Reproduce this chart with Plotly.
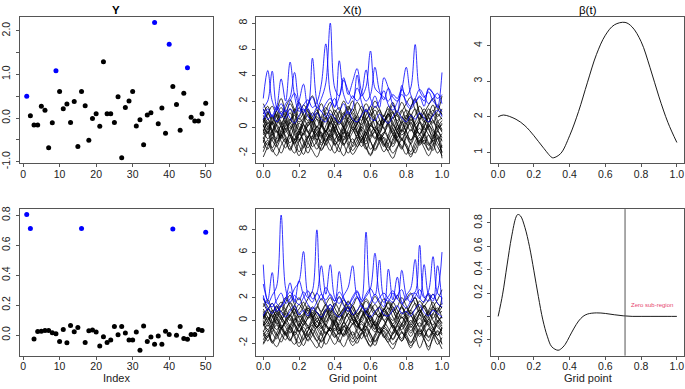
import plotly.graph_objects as go

# ---------------- data ----------------
index = list(range(1, 51))
y_top = [0.50, 0.05, -0.16, -0.16, 0.27, 0.18, -0.68, -0.11, 1.08, 0.61,
         0.21, 0.32, -0.10, 0.38, -0.65, 0.61, 0.28, -0.51, -0.01, 0.10,
         -0.19, 1.29, 0.10, 0.10, -0.10, 0.49, -0.91, 0.24, 0.39, 0.61,
         -0.18, -0.04, -0.61, 0.07, 0.12, 2.19, -0.13, 0.23, -0.35, 1.69,
         0.72, 0.31, -0.28, 0.57, 1.15, 0.02, -0.07, -0.07, 0.10, 0.34]
outliers_top = [1, 9, 36, 40, 45]
y_bot = [0.806, 0.713, -0.026, 0.024, 0.026, 0.030, 0.030, 0.015, 0.009, -0.043,
         0.037, -0.052, 0.063, 0.022, 0.050, 0.713, -0.050, 0.028, 0.033, 0.020,
         -0.074, -0.011, -0.050, -0.033, 0.057, 0.002, 0.057, 0.013, -0.033, -0.033,
         0.020, -0.102, 0.061, -0.043, -0.013, -0.061, -0.007, -0.061, 0.026, 0.004,
         0.709, -0.002, 0.057, -0.024, -0.028, 0.004, 0.004, 0.037, 0.030, 0.687]
outliers_bot = [1, 2, 16, 41, 50]

grid = [i / 40 for i in range(41)]

X_top_normal = [
    [0.2,-0.5,0.8,0.1,-0.9,0.4,1.1,0.2,-0.6,0.3,0.9,-0.2,-1.0,0.1,0.7,-0.4,0.5,1.2,0.0,-0.7,0.3,0.8,-0.3,-1.1,0.2,0.6,-0.5,0.4,1.0,-0.1,-0.8,0.3,0.9,0.1,-0.6,0.5,1.1,0.0,-0.9,0.4,0.7],
    [-1.2,-0.4,-1.6,-0.8,0.1,-0.9,-1.8,-1.0,-0.3,-1.2,-2.0,-1.1,-0.5,-1.4,-0.7,-0.2,-1.3,-1.9,-0.9,-0.4,-1.5,-1.0,-0.2,-0.8,-1.7,-1.2,-0.6,-1.4,-0.9,-0.1,-1.0,-1.6,-0.7,-1.3,-2.0,-1.1,-0.5,-1.2,-1.8,-0.8,-2.4],
    [1.0,1.6,0.7,1.3,2.2,1.1,0.5,1.4,0.8,1.7,1.2,0.4,1.0,1.8,0.9,0.3,1.1,1.5,0.6,1.3,2.0,1.0,0.5,1.4,0.9,1.6,1.1,0.4,1.2,1.9,0.8,1.3,0.6,1.5,2.1,1.0,0.7,1.4,0.9,1.2,2.4],
    [-0.5,0.3,-0.2,-1.1,-0.4,0.4,-0.6,-1.3,-0.5,0.2,-0.3,-0.9,0.1,-0.6,-1.4,-0.7,0.0,-0.5,-1.0,-0.2,0.5,-0.4,-1.2,-0.6,0.1,-0.2,-0.8,-1.5,-0.6,0.2,-0.4,-1.0,-0.3,0.4,-0.5,-1.2,-0.7,0.1,-0.3,-0.9,-0.5],
    [0.6,-0.2,0.4,1.0,0.2,-0.4,0.5,0.9,0.0,-0.6,0.3,0.8,1.3,0.4,-0.3,0.2,0.7,-0.1,-0.5,0.6,1.1,0.3,-0.2,0.5,1.0,0.1,-0.4,0.3,0.8,1.2,0.2,-0.3,0.4,0.9,0.0,-0.5,0.4,1.0,0.5,-0.1,0.3],
    [-2.3,-1.5,-0.8,-1.4,-2.0,-1.2,-0.6,-1.0,-1.9,-1.3,-0.7,-1.5,-1.1,-0.4,-1.2,-1.8,-1.0,-0.5,-1.3,-2.0,-1.4,-0.8,-1.1,-1.7,-0.9,-0.4,-1.2,-1.9,-1.3,-0.6,-1.0,-1.5,-2.1,-1.2,-0.7,-1.4,-1.0,-1.8,-1.3,-0.6,-1.6],
    [0.9,0.2,-0.3,0.5,1.2,0.6,-0.1,0.4,1.5,0.8,0.1,0.6,1.1,0.3,-0.4,0.5,1.3,0.7,0.0,0.8,1.4,0.6,0.2,0.9,1.6,0.8,0.1,0.5,1.0,0.4,-0.2,0.6,1.3,0.9,0.2,0.7,1.4,0.8,0.3,1.0,0.6],
    [-0.8,-1.4,-0.5,0.2,-0.6,-1.2,-0.3,0.3,-0.4,-1.0,-1.6,-0.7,0.0,-0.5,-1.1,-0.4,0.2,-0.6,-1.3,-0.8,-0.2,-0.9,-1.5,-0.6,0.1,-0.3,-1.0,-0.5,0.3,-0.4,-1.1,-1.7,-0.8,-0.2,-0.7,-1.3,-0.5,0.2,-0.6,-1.2,-1.9],
    [0.3,1.0,1.6,0.8,0.2,0.9,1.8,1.1,0.4,0.7,1.4,0.6,0.0,0.8,1.5,0.9,0.3,1.1,2.0,1.2,0.5,0.9,1.6,0.7,0.1,0.8,1.3,0.5,0.9,1.7,1.0,0.3,0.8,1.5,2.2,1.1,0.4,1.0,1.7,0.8,1.4],
    [-0.2,-0.9,-0.3,0.5,0.0,-0.7,-1.2,-0.4,0.3,-0.2,-0.8,-0.1,0.6,0.1,-0.6,-1.0,-0.3,0.4,-0.1,-0.9,-0.4,0.3,0.8,0.0,-0.7,-0.2,0.5,-0.1,-0.8,-1.3,-0.5,0.2,-0.3,-1.0,-0.4,0.4,0.0,-0.6,-1.1,-0.3,0.2],
    [-1.6,-1.0,-1.9,-1.3,-0.6,-1.1,-1.7,-0.9,-1.4,-2.1,-1.2,-0.7,-1.3,-1.8,-1.1,-0.5,-1.0,-1.6,-2.2,-1.4,-0.9,-1.5,-1.0,-0.4,-1.1,-1.8,-1.2,-0.8,-1.4,-2.0,-1.5,-0.9,-1.3,-1.9,-1.1,-0.6,-1.2,-1.7,-1.0,-1.5,-2.2],
    [1.4,0.7,0.2,0.9,1.5,0.8,0.3,1.2,1.9,1.0,0.5,1.1,0.6,0.0,0.7,1.3,0.6,0.2,0.8,1.5,0.9,0.3,1.0,1.8,1.2,0.6,0.2,0.9,1.4,0.7,1.1,1.9,1.2,0.5,0.9,1.6,1.0,0.4,1.1,1.7,0.9],
    [0.0,0.6,-0.3,-0.9,-0.2,0.5,0.1,-0.6,-1.1,-0.3,0.4,-0.2,-0.7,0.2,0.8,0.1,-0.5,-1.0,-0.2,0.5,-0.1,-0.7,0.0,0.6,-0.2,-0.8,-0.3,0.4,1.0,0.2,-0.4,-0.9,-0.1,0.6,0.0,-0.6,0.1,0.7,-0.1,-0.7,-1.0],
    [-0.6,-0.1,0.4,-0.3,-0.8,-0.2,0.3,-0.4,-1.0,-0.5,0.1,0.6,-0.1,-0.7,-0.3,0.4,-0.2,-0.9,-1.4,-0.6,0.0,-0.4,-1.0,-0.3,0.3,-0.3,-0.9,-0.5,0.2,0.7,-0.1,-0.6,-0.2,0.3,-0.4,-1.1,-0.6,0.0,0.5,-0.2,-0.8],
    [0.4,1.1,0.3,-0.4,0.2,0.9,1.4,0.5,-0.2,0.6,1.2,0.4,-0.3,-0.8,0.1,0.8,0.2,-0.5,0.3,1.0,0.5,-0.3,-0.9,0.0,0.7,1.3,0.6,-0.1,0.4,1.1,0.3,-0.4,0.2,0.8,1.4,0.5,-0.2,0.3,0.9,0.2,-0.3],
    [-1.0,-1.7,-0.9,-0.3,-1.1,-1.6,-0.8,-1.4,-2.2,-1.5,-0.8,-0.3,-1.0,-1.7,-1.2,-0.6,-1.3,-1.0,-0.4,-1.1,-1.8,-1.3,-0.7,-1.5,-2.1,-1.2,-0.5,-0.9,-1.6,-1.1,-0.4,-0.9,-1.5,-2.3,-1.4,-0.8,-1.3,-0.6,-1.2,-2.0,-1.4],
    [1.8,1.1,0.6,1.2,0.7,1.5,2.1,1.3,0.6,1.1,1.8,2.4,1.4,0.7,1.3,1.9,1.0,0.4,1.0,1.6,1.2,1.9,1.3,0.6,1.2,2.0,1.4,0.8,1.6,1.1,0.5,1.2,1.8,2.3,1.3,0.6,1.1,1.7,2.2,1.4,1.0],
    [-0.3,0.4,-0.5,-1.2,-0.6,0.1,0.6,-0.2,-0.9,-1.6,-0.8,-0.1,-0.6,-1.2,-0.4,0.3,-0.3,-1.1,-0.5,0.2,0.7,0.0,-0.7,-1.3,-0.6,0.0,-0.5,-1.2,-1.8,-0.9,-0.2,0.4,-0.4,-1.0,-0.3,0.3,-0.5,-1.3,-0.7,0.1,-0.4],
    [0.7,0.0,-0.6,0.2,0.9,0.3,-0.4,-1.0,-0.3,0.5,1.0,0.2,-0.5,0.3,1.1,0.6,-0.2,-0.8,0.0,0.7,0.2,-0.5,0.4,1.2,0.5,-0.3,0.1,0.9,0.3,-0.6,-1.1,-0.2,0.6,1.0,0.2,-0.5,0.0,0.8,1.3,0.5,-0.2],
    [-1.9,-1.2,-1.7,-2.2,-1.4,-0.9,-1.5,-2.0,-1.1,-0.5,-1.2,-1.8,-2.3,-1.5,-0.9,-1.4,-2.0,-1.3,-0.7,-1.4,-2.1,-1.6,-1.0,-1.6,-2.2,-1.4,-0.8,-1.3,-1.9,-2.4,-1.6,-1.0,-1.5,-2.1,-1.7,-1.0,-1.6,-2.2,-1.5,-0.9,-2.0],
    [0.1,-0.4,0.3,0.9,0.4,-0.2,-0.7,0.1,0.7,0.2,-0.4,0.3,0.8,0.2,-0.3,-0.8,0.0,0.6,1.1,0.4,-0.2,0.2,0.9,0.3,-0.4,-0.9,-0.1,0.6,0.1,-0.5,0.2,0.8,0.3,-0.3,0.4,1.0,0.5,-0.2,-0.7,0.0,0.5],
    [-0.9,-0.3,-1.0,-1.5,-0.7,-0.1,-0.6,-1.2,-0.5,0.1,-0.4,-1.1,-1.7,-0.9,-0.3,-0.8,-1.4,-0.7,-0.1,-0.6,-1.2,-0.6,0.0,-0.5,-1.1,-1.7,-1.0,-0.4,-0.9,-1.5,-0.8,-0.2,-0.7,-1.3,-0.6,-0.1,-0.8,-1.4,-0.9,-0.3,-1.1],
]
X_top_outlier = [
    [2.2,4.35,2.0,1.3,1.8,1.2,2.0,2.6,1.6,1.1,1.7,2.3,1.5,2.2,3.4,8.0,3.0,2.4,3.6,2.8,2.2,3.0,2.4,3.1,5.85,3.0,2.6,2.3,2.0,2.5,2.2,2.9,2.4,3.0,6.35,2.8,2.3,2.7,2.0,1.6,1.2],
    [1.5,2.0,4.3,1.5,1.0,1.8,2.3,4.2,1.9,1.3,1.6,5.3,2.0,1.2,1.8,2.2,1.5,5.1,2.5,1.8,2.4,2.0,2.6,4.4,2.2,1.5,2.0,2.8,1.7,1.3,1.9,2.5,2.0,1.6,2.2,2.9,2.4,1.8,2.2,2.6,1.8],
    [1.0,1.4,0.8,1.5,3.7,2.0,5.0,2.4,1.2,1.7,2.1,1.5,1.9,3.3,6.4,2.6,1.6,2.3,3.8,2.5,3.5,4.5,2.7,2.0,2.5,4.6,2.8,2.1,3.0,2.3,2.0,2.9,4.6,2.5,1.9,2.4,2.0,2.9,2.6,2.2,2.5],
    [0.6,1.2,0.9,1.6,1.0,0.7,1.4,1.1,2.0,3.3,1.4,0.9,1.5,1.2,0.8,1.6,2.2,1.3,1.8,1.0,1.5,4.0,1.9,1.2,1.6,2.4,1.5,3.8,3.0,1.7,1.2,3.2,1.8,1.4,1.9,2.3,1.6,3.0,2.6,1.5,4.2],
    [1.4,0.6,0.9,0.4,0.8,1.3,0.7,0.3,0.9,1.4,0.8,0.5,1.1,0.6,0.4,1.0,0.7,0.3,0.8,1.2,0.6,0.4,0.9,1.3,0.7,0.5,1.0,0.6,0.3,0.8,1.2,0.7,0.4,0.9,0.6,1.1,0.7,0.4,0.9,1.3,0.8],
]
X_bot_normal = [
    [0.5,-0.3,0.9,0.2,-0.7,0.1,1.0,0.4,-0.5,0.2,1.1,0.3,-0.6,-0.1,0.8,0.2,-0.9,-0.2,0.6,1.2,0.1,-0.5,0.4,0.9,-0.2,-0.8,0.3,1.0,0.4,-0.3,0.5,1.1,0.2,-0.6,0.0,0.7,1.3,0.3,-0.4,0.5,0.8],
    [-1.4,-0.8,-1.9,-1.1,-0.4,-1.2,-1.7,-0.9,-0.3,-1.0,-1.8,-1.3,-0.6,-1.1,-2.1,-1.4,-0.7,-1.2,-0.5,-1.0,-1.6,-0.9,-0.3,-1.1,-1.9,-1.2,-0.7,-1.5,-1.0,-0.4,-1.2,-1.8,-1.1,-0.5,-1.3,-2.4,-1.5,-0.8,-1.1,-1.7,-2.5],
    [1.2,1.8,0.9,0.4,1.3,2.0,1.2,0.6,1.0,1.6,0.8,0.3,1.1,1.9,1.3,0.7,1.2,2.1,1.4,0.8,1.3,0.6,1.0,1.7,1.1,0.5,1.2,1.9,1.0,1.5,2.2,1.3,0.7,1.4,2.0,1.1,1.7,2.3,1.2,0.8,2.0],
    [-0.3,-1.0,-0.4,0.3,-0.5,-1.2,-0.6,0.1,-0.2,-0.9,-1.4,-0.5,0.2,-0.4,-1.1,-0.7,0.0,-0.6,-1.3,-0.4,0.3,-0.3,-0.9,-0.2,0.4,-0.5,-1.1,-0.6,0.1,-0.4,-1.0,-1.6,-0.7,0.0,-0.5,-1.2,-0.8,-0.1,-0.6,-1.3,-0.7],
    [0.8,0.1,0.6,1.2,0.4,-0.2,0.5,1.0,0.2,-0.4,0.3,0.9,0.4,-0.3,0.4,1.1,0.5,0.0,0.7,1.3,0.6,-0.1,0.3,0.8,0.2,-0.5,0.4,1.0,0.5,0.0,0.6,1.2,0.4,-0.2,0.5,0.9,0.1,-0.4,0.6,1.1,0.2],
    [-2.1,-1.4,-0.7,-1.2,-1.9,-1.0,-0.5,-1.3,-2.0,-1.2,-0.6,-1.1,-1.8,-2.4,-1.3,-0.7,-1.2,-1.9,-1.1,-0.6,-1.4,-2.0,-1.2,-0.8,-1.5,-2.2,-1.3,-0.7,-1.1,-1.7,-1.0,-0.5,-1.2,-1.9,-1.3,-0.8,-1.6,-2.6,-1.4,-0.9,-1.3],
    [1.0,0.3,-0.2,0.6,1.3,0.5,0.0,0.7,1.4,0.8,0.2,0.5,1.2,0.6,-0.1,0.6,1.5,0.9,0.2,0.6,1.2,0.4,-0.1,0.7,1.4,0.8,0.3,0.9,1.6,0.9,0.2,0.5,1.1,0.5,-0.1,0.6,1.3,0.7,0.2,0.9,1.5],
    [-0.9,-1.5,-0.6,0.1,-0.7,-1.3,-0.4,0.2,-0.5,-1.1,-1.7,-0.8,-0.1,-0.6,-1.2,-0.5,0.1,-0.7,-1.4,-0.9,-0.3,-1.0,-1.6,-0.7,0.0,-0.4,-1.1,-0.6,0.2,-0.5,-1.2,-1.8,-0.9,-0.3,-0.8,-1.4,-0.6,0.1,-0.7,-1.3,-0.6],
    [0.2,0.9,1.5,0.7,0.1,0.8,1.6,1.0,0.3,0.6,1.3,0.5,-0.1,0.7,1.4,0.8,0.2,1.0,1.8,1.1,0.4,0.8,1.5,0.6,0.0,0.7,1.2,0.4,0.8,1.6,0.9,0.2,0.7,1.4,2.0,1.0,0.3,0.9,1.6,0.7,1.2],
    [-0.1,-0.8,-0.2,0.6,0.1,-0.6,-1.1,-0.3,0.4,-0.1,-0.7,0.0,0.7,0.2,-0.5,-0.9,-0.2,0.5,0.0,-0.8,-0.3,0.4,0.9,0.1,-0.6,-0.1,0.6,0.0,-0.7,-1.2,-0.4,0.3,-0.2,-0.9,-0.3,0.5,0.1,-0.5,-1.0,-0.2,0.3],
    [-1.7,-1.1,-2.0,-1.4,-0.7,-1.2,-1.8,-1.0,-1.5,-2.2,-1.3,-0.8,-1.4,-1.9,-1.2,-0.6,-1.1,-1.7,-2.3,-1.5,-1.0,-1.6,-1.1,-0.5,-1.2,-1.9,-1.3,-0.9,-1.5,-2.1,-1.6,-1.0,-1.4,-2.0,-1.2,-0.7,-1.3,-1.8,-1.1,-1.6,-2.0],
    [1.5,0.8,0.3,1.0,1.6,0.9,0.4,1.3,2.0,1.1,0.6,1.2,0.7,0.1,0.8,1.4,0.7,0.3,0.9,1.6,1.0,0.4,1.1,1.9,1.3,0.7,0.3,1.0,1.5,0.8,1.2,2.0,1.3,0.6,1.0,1.7,1.1,0.5,1.2,1.8,2.7],
    [0.1,0.7,-0.2,-0.8,-0.1,0.6,0.2,-0.5,-1.0,-0.2,0.5,-0.1,-0.6,0.3,0.9,0.2,-0.4,-0.9,-0.1,0.6,0.0,-0.6,0.1,0.7,-0.1,-0.7,-0.2,0.5,1.1,0.3,-0.3,-0.8,0.0,0.7,0.1,-0.5,0.2,0.8,0.0,-0.6,-0.9],
    [-0.5,0.0,0.5,-0.2,-0.7,-0.1,0.4,-0.3,-0.9,-0.4,0.2,0.7,0.0,-0.6,-0.2,0.5,-0.1,-0.8,-1.3,-0.5,0.1,-0.3,-0.9,-0.2,0.4,-0.2,-0.8,-0.4,0.3,0.8,0.0,-0.5,-0.1,0.4,-0.3,-1.0,-0.5,0.1,0.6,-0.1,-0.7],
    [0.3,1.0,0.4,-0.3,0.3,1.0,1.5,0.6,-0.1,0.5,1.1,0.3,-0.4,-0.7,0.2,0.9,0.3,-0.4,0.4,1.1,0.6,-0.2,-0.8,0.1,0.8,1.4,0.7,0.0,0.5,1.2,0.4,-0.3,0.3,0.9,1.5,0.6,-0.1,0.4,1.0,0.3,-0.2],
    [-1.1,-1.8,-1.0,-0.4,-1.2,-1.7,-0.9,-1.5,-2.3,-1.6,-0.9,-0.4,-1.1,-1.8,-1.3,-0.7,-1.4,-1.1,-0.5,-1.2,-1.9,-1.4,-0.8,-1.6,-2.2,-1.3,-0.6,-1.0,-1.7,-1.2,-0.5,-1.0,-1.6,-2.4,-1.5,-0.9,-1.4,-0.7,-1.3,-2.1,-1.5],
    [1.9,1.2,0.7,1.3,0.8,1.6,2.2,1.4,0.7,1.2,1.9,2.5,1.5,0.8,1.4,2.0,1.1,0.5,1.1,1.7,1.3,2.0,1.4,0.7,1.3,2.1,1.5,0.9,1.7,1.2,0.6,1.3,1.9,2.4,1.4,0.7,1.2,1.8,2.3,1.5,1.1],
    [-0.4,0.3,-0.6,-1.3,-0.7,0.0,0.5,-0.3,-1.0,-1.7,-0.9,-0.2,-0.7,-1.3,-0.5,0.2,-0.4,-1.2,-0.6,0.1,0.6,-0.1,-0.8,-1.4,-0.7,-0.1,-0.6,-1.3,-1.9,-1.0,-0.3,0.3,-0.5,-1.1,-0.4,0.2,-0.6,-1.4,-0.8,0.0,-0.5],
    [0.6,-0.1,-0.7,0.1,0.8,0.2,-0.5,-1.1,-0.4,0.4,0.9,0.1,-0.6,0.2,1.0,0.5,-0.3,-0.9,-0.1,0.6,0.1,-0.6,0.3,1.1,0.4,-0.4,0.0,0.8,0.2,-0.7,-1.2,-0.3,0.5,0.9,0.1,-0.6,-0.1,0.7,1.2,0.4,-0.3],
    [-2.0,-1.3,-1.8,-2.3,-1.5,-1.0,-1.6,-2.1,-1.2,-0.6,-1.3,-1.9,-2.4,-1.6,-1.0,-1.5,-2.1,-1.4,-0.8,-1.5,-2.2,-1.7,-1.1,-1.7,-2.3,-1.5,-0.9,-1.4,-2.0,-2.5,-1.7,-1.1,-1.6,-2.2,-1.8,-1.1,-1.7,-2.3,-1.6,-1.0,-2.1],
    [0.0,-0.5,0.2,0.8,0.3,-0.3,-0.8,0.0,0.6,0.1,-0.5,0.2,0.7,0.1,-0.4,-0.9,-0.1,0.5,1.0,0.3,-0.3,0.1,0.8,0.2,-0.5,-1.0,-0.2,0.5,0.0,-0.6,0.1,0.7,0.2,-0.4,0.3,0.9,0.4,-0.3,-0.8,-0.1,0.4],
    [-1.0,-0.4,-1.1,-1.6,-0.8,-0.2,-0.7,-1.3,-0.6,0.0,-0.5,-1.2,-1.8,-1.0,-0.4,-0.9,-1.5,-0.8,-0.2,-0.7,-1.3,-0.7,-0.1,-0.6,-1.2,-1.8,-1.1,-0.5,-1.0,-1.6,-0.9,-0.3,-0.8,-1.4,-0.7,-0.2,-0.9,-1.5,-1.0,-0.4,-1.2],
]
X_bot_outlier = [
    [2.0,1.5,2.2,3.0,9.25,2.8,1.6,2.2,1.8,2.5,2.0,2.6,7.95,2.4,1.8,2.3,1.7,2.5,1.9,1.4,2.1,2.6,1.8,7.75,2.2,1.5,2.0,2.4,1.9,1.6,2.2,2.7,1.8,2.3,2.5,6.6,2.1,1.7,2.3,1.5,1.2],
    [4.9,1.6,1.2,1.8,2.4,1.5,1.9,2.8,3.4,6.05,2.2,1.6,2.4,1.8,2.9,2.2,1.7,4.3,2.0,1.4,1.9,2.5,1.7,2.1,2.8,5.9,2.3,1.6,2.1,2.6,1.9,1.5,2.2,2.8,5.35,2.0,1.6,2.4,1.9,2.6,6.0],
    [3.2,1.8,4.2,1.5,1.2,1.9,2.5,1.8,1.4,2.0,2.6,1.9,2.4,4.8,2.3,4.9,2.0,1.5,2.2,2.9,4.8,2.1,1.6,2.3,2.8,2.2,5.3,2.0,1.7,2.4,1.9,4.4,2.2,1.6,2.1,2.7,2.0,2.6,5.6,2.4,2.0],
    [2.2,1.0,1.5,0.8,1.3,1.9,3.3,1.6,3.5,2.2,1.4,1.0,1.6,2.3,1.5,0.9,1.4,2.0,1.3,0.8,1.5,2.1,1.2,0.9,1.6,2.3,1.7,1.2,4.5,1.8,3.8,1.6,1.1,1.7,2.4,1.9,4.9,2.2,1.7,4.8,1.4],
    [0.4,1.0,0.6,1.2,0.7,0.3,0.8,1.3,0.5,0.9,0.4,1.1,0.7,0.3,0.9,1.4,0.6,0.3,0.8,1.2,0.5,0.9,1.3,0.6,0.3,0.8,1.1,0.5,0.4,0.9,1.3,0.6,0.8,0.4,1.0,1.4,0.7,0.4,0.9,0.6,0.3],
]

beta_t_top = [0.0, 0.03, 0.1, 0.15, 0.2, 0.25, 0.3, 0.31, 0.35, 0.4, 0.45, 0.5, 0.55,
              0.6, 0.65, 0.71, 0.75, 0.8, 0.85, 0.9, 0.95, 1.0]
beta_top = [2.0, 2.05, 1.93, 1.75, 1.47, 1.15, 0.86, 0.85, 0.97, 1.47, 2.15, 2.97, 3.75,
            4.29, 4.58, 4.65, 4.52, 4.11, 3.38, 2.56, 1.84, 1.28]
beta_t_bot = [0.0, 0.025, 0.05, 0.075, 0.1, 0.11, 0.125, 0.15, 0.175, 0.2, 0.225, 0.25,
              0.275, 0.3, 0.335, 0.35, 0.375, 0.4, 0.425, 0.45, 0.475, 0.5, 0.55, 0.6,
              0.65, 0.7, 0.75, 0.8, 0.85, 0.9, 0.95, 1.0]
beta_bot = [0.0, 0.19, 0.44, 0.68, 0.85, 0.872, 0.86, 0.76, 0.60, 0.39, 0.17, -0.03,
            -0.17, -0.26, -0.29, -0.28, -0.24, -0.17, -0.10, -0.04, 0.0, 0.02, 0.03, 0.025,
            0.014, 0.005, 0.0, 0.0, 0.0, 0.0, 0.0, 0.0]
zero_region_start = 0.71
zero_label = "Zero sub-region"

titles = ["<b>Y</b>", "X(t)", "β(t)"]
xlabels = ["Index", "Grid point", "Grid point"]

# ---------------- layout helpers ----------------
W, H = 685, 389
FONT = "Liberation Sans, Arial, Helvetica, sans-serif"
cols = [(12.7, 208.0), (251.7, 446.7), (489.0, 684.0)]
rows = [(14.3, 164.0), (211.0, 361.0)]


def xdom(c):
    return [c[0] / W, c[1] / W]


def ydom(r):
    return [1 - r[1] / H, 1 - r[0] / H]


fig = go.Figure()
axis_common = dict(showline=True, mirror=True, linecolor="#555555", linewidth=1,
                   ticks="outside", ticklen=3, tickcolor="#555555", showgrid=False,
                   zeroline=False, tickfont=dict(family=FONT, size=10.5, color="#222"))

layout = dict(width=W, height=H, margin=dict(l=0, r=0, t=0, b=0),
              paper_bgcolor="white", plot_bgcolor="white", showlegend=False)

n = 0
for r in range(2):
    for c in range(3):
        n += 1
        xa = "xaxis" if n == 1 else f"xaxis{n}"
        ya = "yaxis" if n == 1 else f"yaxis{n}"
        layout[xa] = dict(domain=xdom(cols[c]), anchor=f"y{'' if n == 1 else n}",
                          ticklabelstandoff=-2, **axis_common)
        layout[ya] = dict(domain=ydom(rows[r]), anchor=f"x{'' if n == 1 else n}",
                          tickangle=-90, ticklabelstandoff=1, **axis_common)
fig.update_layout(**layout)


def ref(n):
    return ("x", "y") if n == 1 else (f"x{n}", f"y{n}")


# panel 1 / 4 : scatter of Y
for n, yv, outl in [(1, y_top, outliers_top), (4, y_bot, outliers_bot)]:
    xr, yr = ref(n)
    cols_pts = ["#0000ff" if i in outl else "#000000" for i in index]
    fig.add_trace(go.Scatter(x=index, y=yv, mode="markers", xaxis=xr, yaxis=yr,
                             marker=dict(size=5, color=cols_pts, line=dict(width=0))))

# panel 2 / 5 : curves
for n, normal, outl in [(2, X_top_normal, X_top_outlier), (5, X_bot_normal, X_bot_outlier)]:
    xr, yr = ref(n)
    for curve in normal:
        fig.add_trace(go.Scatter(x=grid, y=curve, mode="lines", xaxis=xr, yaxis=yr,
                                 line=dict(color="#000000", width=0.8, shape="spline", smoothing=1)))
    for curve in outl:
        fig.add_trace(go.Scatter(x=grid, y=curve, mode="lines", xaxis=xr, yaxis=yr,
                                 line=dict(color="#0000ff", width=0.8, shape="spline", smoothing=1)))

# panel 3 / 6 : beta
for n, tv, bv in [(3, beta_t_top, beta_top), (6, beta_t_bot, beta_bot)]:
    xr, yr = ref(n)
    fig.add_trace(go.Scatter(x=tv, y=bv, mode="lines", xaxis=xr, yaxis=yr,
                             line=dict(color="#000000", width=0.9, shape="spline", smoothing=1)))

fig.add_shape(type="line", xref="x6", yref="y6 domain", x0=zero_region_start, x1=zero_region_start,
              y0=0, y1=1, line=dict(color="#555555", width=1))
fig.add_annotation(x=(zero_region_start + 1.0) / 2 + 0.008, y=0.1, xref="x6", yref="y6",
                   text=zero_label, showarrow=False,
                   font=dict(family=FONT, size=6, color="#e6456f"))

# ranges and ticks
grid_ticks = dict(tickvals=[0, 0.2, 0.4, 0.6, 0.8, 1.0], ticktext=["0.0", "0.2", "0.4", "0.6", "0.8", "1.0"],
                  range=[-0.04, 1.04])
idx_ticks = dict(tickvals=[0, 10, 20, 30, 40, 50], ticktext=["0", "10", "20", "30", "40", "50"],
                 range=[-0.96, 51.96])
fig.update_layout(
    xaxis=idx_ticks, xaxis4=idx_ticks,
    xaxis2=grid_ticks, xaxis3=grid_ticks, xaxis5=grid_ticks, xaxis6=grid_ticks,
    yaxis=dict(range=[-1.034, 2.314], tickvals=[-1, -0.5, 0, 0.5, 1, 1.5, 2],
               ticktext=["-1.0", "", "0.0", "", "1.0", "", "2.0"]),
    yaxis4=dict(range=[-0.138, 0.842], tickvals=[0, 0.2, 0.4, 0.6, 0.8],
                ticktext=["0.0", "0.2", "0.4", "0.6", "0.8"]),
    yaxis2=dict(range=[-2.78, 8.47], tickvals=[-2, 0, 2, 4, 6, 8], ticktext=["-2", "0", "2", "4", "6", "8"]),
    yaxis5=dict(range=[-3.09, 9.77], tickvals=[-2, 0, 2, 4, 6, 8], ticktext=["-2", "0", "2", "4", "6", "8"]),
    yaxis3=dict(range=[0.698, 4.802], tickvals=[1, 2, 3, 4], ticktext=["1", "2", "3", "4"]),
    yaxis6=dict(range=[-0.336, 0.918], tickvals=[-0.2, 0, 0.2, 0.4, 0.6, 0.8],
                ticktext=["-0.2", "", "0.2", "0.4", "0.6", "0.8"]),
)

# titles and axis labels
for c in range(3):
    cx = (cols[c][0] + cols[c][1]) / 2 / W
    fig.add_annotation(x=cx, y=1 - 7.5 / H, xref="paper", yref="paper", text=titles[c],
                       showarrow=False, xanchor="center", yanchor="middle",
                       font=dict(family=FONT, size=11.5, color="#000"))
    fig.add_annotation(x=cx, y=0, xref="paper", yref="paper", text=xlabels[c],
                       showarrow=False, xanchor="center", yanchor="bottom", yshift=-2.5,
                       font=dict(family=FONT, size=11, color="#222"))

fig.write_html("out.html", config={"staticPlot": True, "displayModeBar": False},
               post_script="document.body.style.margin='0';document.body.style.overflow='hidden';")
